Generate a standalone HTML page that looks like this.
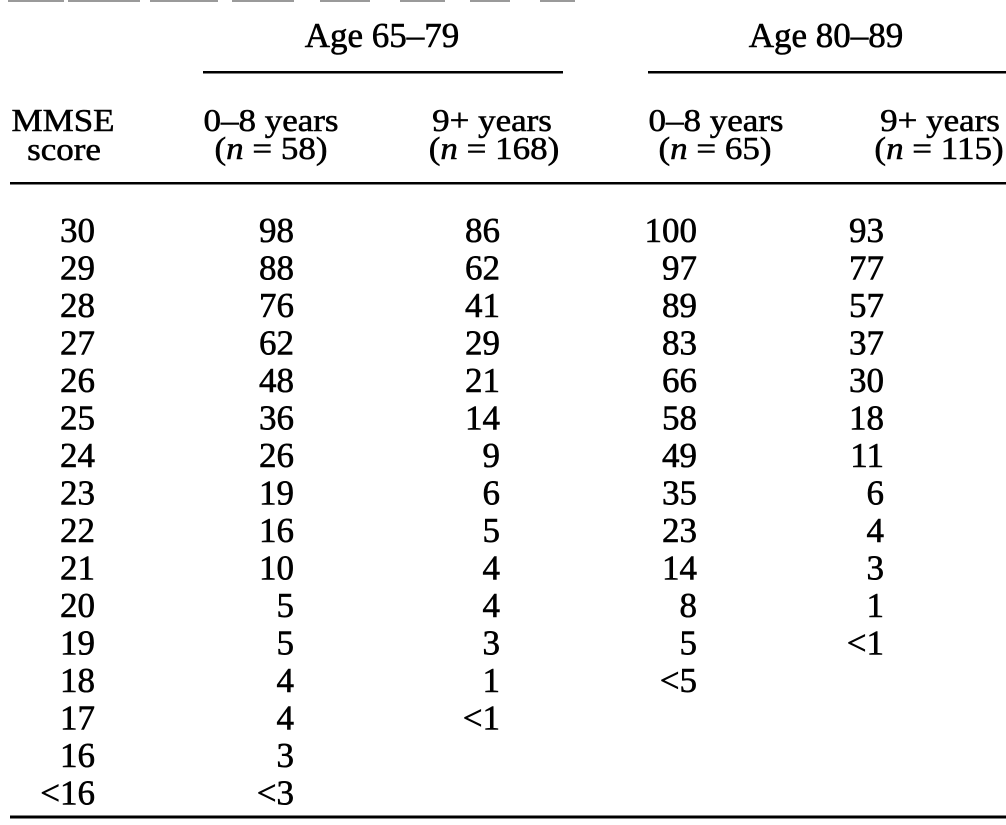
<!DOCTYPE html>
<html>
<head>
<meta charset="utf-8">
<style>
  html, body { margin:0; padding:0; background:#fff; }
  body { width:1006px; height:825px; overflow:hidden; }
  svg { display:block; }
  text { font-family: "Liberation Serif", "Times New Roman", serif; fill:#000; stroke:#000; stroke-width:0.6; }
</style>
</head>
<body>
<svg width="1006" height="825" viewBox="0 0 1006 825" xmlns="http://www.w3.org/2000/svg">
  <rect x="0" y="0" width="1006" height="825" fill="#fff"/>
  <!-- faint top rule (scan remnant) -->
  <g fill="#9a9a9a">
    <rect x="8" y="0" width="56" height="2"/>
    <rect x="68" y="0" width="72" height="2"/>
    <rect x="150" y="0" width="68" height="2"/>
    <rect x="232" y="0" width="62" height="2"/>
    <rect x="320" y="0" width="50" height="2"/>
    <rect x="400" y="0" width="45" height="2"/>
    <rect x="470" y="0" width="40" height="2"/>
    <rect x="540" y="0" width="35" height="2"/>
  </g>
  <!-- rules -->
  <rect x="203" y="71" width="360" height="2.5" fill="#000"/>
  <rect x="648" y="71" width="358" height="2.5" fill="#000"/>
  <rect x="10" y="182" width="996" height="2.5" fill="#000"/>
  <rect x="10" y="815.5" width="996" height="3" fill="#000"/>

  <!-- group headers -->
  <g font-size="35" text-anchor="middle">
    <text x="382" y="47">Age 65–79</text>
    <text x="826" y="47">Age 80–89</text>
  </g>

  <!-- column headers -->
  <g font-size="35" text-anchor="middle">
    <text transform="translate(63,131) scale(1,0.9)">MMSE</text>
    <text transform="translate(64,160) scale(1,0.9)">score</text>
    <text transform="translate(271,131) scale(1,0.9)">0–8 years</text>
    <text transform="translate(271,159) scale(1,0.9)">(<tspan font-style="italic">n</tspan> = 58)</text>
    <text transform="translate(492,131) scale(1,0.9)">9+ years</text>
    <text transform="translate(494,159) scale(1,0.9)">(<tspan font-style="italic">n</tspan> = 168)</text>
    <text transform="translate(716,131) scale(1,0.9)">0–8 years</text>
    <text transform="translate(715,159) scale(1,0.9)">(<tspan font-style="italic">n</tspan> = 65)</text>
    <text transform="translate(940,131) scale(1,0.9)">9+ years</text>
    <text transform="translate(939,159) scale(1,0.9)">(<tspan font-style="italic">n</tspan> = 115)</text>
  </g>

  <!-- body -->
  <g font-size="35" text-anchor="end">
    <!-- MMSE score column -->
    <text x="95" y="242">30</text>
    <text x="95" y="279.5">29</text>
    <text x="95" y="317">28</text>
    <text x="95" y="354.5">27</text>
    <text x="95" y="392">26</text>
    <text x="95" y="429.5">25</text>
    <text x="95" y="467">24</text>
    <text x="95" y="504.5">23</text>
    <text x="95" y="542">22</text>
    <text x="95" y="579.5">21</text>
    <text x="95" y="617">20</text>
    <text x="95" y="654.5">19</text>
    <text x="95" y="692">18</text>
    <text x="95" y="729.5">17</text>
    <text x="95" y="767">16</text>
    <text x="95" y="804.5">&lt;16</text>

    <!-- Age 65-79, 0-8 years -->
    <text x="294" y="242">98</text>
    <text x="294" y="279.5">88</text>
    <text x="294" y="317">76</text>
    <text x="294" y="354.5">62</text>
    <text x="294" y="392">48</text>
    <text x="294" y="429.5">36</text>
    <text x="294" y="467">26</text>
    <text x="294" y="504.5">19</text>
    <text x="294" y="542">16</text>
    <text x="294" y="579.5">10</text>
    <text x="294" y="617">5</text>
    <text x="294" y="654.5">5</text>
    <text x="294" y="692">4</text>
    <text x="294" y="729.5">4</text>
    <text x="294" y="767">3</text>
    <text x="294" y="804.5">&lt;3</text>

    <!-- Age 65-79, 9+ years -->
    <text x="500" y="242">86</text>
    <text x="500" y="279.5">62</text>
    <text x="500" y="317">41</text>
    <text x="500" y="354.5">29</text>
    <text x="500" y="392">21</text>
    <text x="500" y="429.5">14</text>
    <text x="500" y="467">9</text>
    <text x="500" y="504.5">6</text>
    <text x="500" y="542">5</text>
    <text x="500" y="579.5">4</text>
    <text x="500" y="617">4</text>
    <text x="500" y="654.5">3</text>
    <text x="500" y="692">1</text>
    <text x="500" y="729.5">&lt;1</text>

    <!-- Age 80-89, 0-8 years -->
    <text x="697" y="242">100</text>
    <text x="697" y="279.5">97</text>
    <text x="697" y="317">89</text>
    <text x="697" y="354.5">83</text>
    <text x="697" y="392">66</text>
    <text x="697" y="429.5">58</text>
    <text x="697" y="467">49</text>
    <text x="697" y="504.5">35</text>
    <text x="697" y="542">23</text>
    <text x="697" y="579.5">14</text>
    <text x="697" y="617">8</text>
    <text x="697" y="654.5">5</text>
    <text x="697" y="692">&lt;5</text>

    <!-- Age 80-89, 9+ years -->
    <text x="884" y="242">93</text>
    <text x="884" y="279.5">77</text>
    <text x="884" y="317">57</text>
    <text x="884" y="354.5">37</text>
    <text x="884" y="392">30</text>
    <text x="884" y="429.5">18</text>
    <text x="884" y="467">11</text>
    <text x="884" y="504.5">6</text>
    <text x="884" y="542">4</text>
    <text x="884" y="579.5">3</text>
    <text x="884" y="617">1</text>
    <text x="884" y="654.5">&lt;1</text>
  </g>
</svg>
</body>
</html>
